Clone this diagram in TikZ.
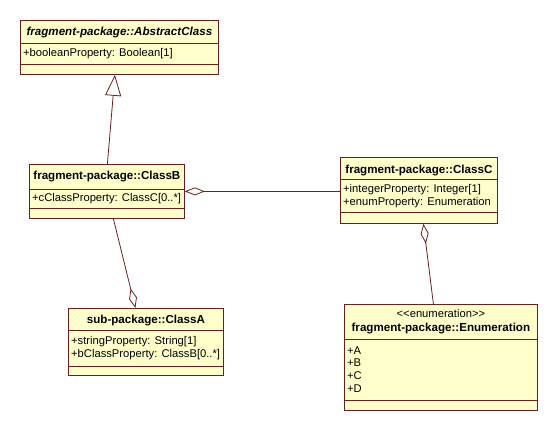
\documentclass[tikz,border=0pt]{standalone}
\usepackage{fontspec}
\setmainfont{Liberation Sans}
\usepackage{xcolor}
\usepackage{tikz}
\usetikzlibrary{arrows.meta}

\definecolor{umlfill}{RGB}{255,255,204}
\definecolor{umlline}{RGB}{110,30,30}

\tikzset{
	classbox/.style = {draw=umlline, fill=umlfill, line width=0.8pt, inner sep=0pt, anchor=north west},
	sepline/.style = {draw=umlline, line width=0.8pt},
	titletext/.style = {inner sep=0pt, anchor=base, font=\fontsize{11.6}{13}\selectfont\bfseries},
	stereotext/.style = {inner sep=0pt, anchor=base, font=\fontsize{11.2}{13}\selectfont},
	attrtext/.style = {inner sep=0pt, anchor=base west, font=\fontsize{11.2}{13}\selectfont},
	assoc/.style = {draw=umlline, line width=0.8pt},
	generalize/.style = {assoc, -{Triangle[open, length=21pt, width=16pt]}},
	aggregate/.style = {assoc, {Diamond[open, length=20pt, width=8pt]}-}
}

\begin{document}
\begin{tikzpicture}[x=1pt, y=-1pt]
		\useasboundingbox (0,0) rectangle (557,431);

		% abstract class
		\node[classbox, minimum width=198pt, minimum height=54pt] (abstract) at (20,20) {};
		\draw[sepline] (abstract.west |- 0,43) -- (abstract.east |- 0,43);
		\draw[sepline] (abstract.west |- 0,64) -- (abstract.east |- 0,64);
		\node[titletext] (abstract-title) at (abstract.north |- 0,35) {\itshape fragment-package::AbstractClass};
		\node[attrtext] (abstract-a1) at ([xshift=3pt]abstract.west |- 0,56) {+booleanProperty: Boolean[1]};

		% class B
		\node[classbox, minimum width=155pt, minimum height=54pt] (classB) at (29,164) {};
		\draw[sepline] (classB.west |- 0,189) -- (classB.east |- 0,189);
		\draw[sepline] (classB.west |- 0,208) -- (classB.east |- 0,208);
		\node[titletext] (classB-title) at (classB.north |- 0,179) {fragment-package::ClassB};
		\node[attrtext] (classB-a1) at ([xshift=3pt]classB.west |- 0,201) {+cClassProperty: ClassC[0..*]};

		% class C
		\node[classbox, minimum width=157pt, minimum height=66pt] (classC) at (340,157) {};
		\draw[sepline] (classC.west |- 0,179) -- (classC.east |- 0,179);
		\draw[sepline] (classC.west |- 0,212) -- (classC.east |- 0,212);
		\node[titletext] (classC-title) at (classC.north |- 0,173) {fragment-package::ClassC};
		\node[attrtext] (classC-a1) at ([xshift=3pt]classC.west |- 0,192) {+integerProperty: Integer[1]};
		\node[attrtext] (classC-a2) at ([xshift=3pt]classC.west |- 0,205) {+enumProperty: Enumeration};

		% class A
		\node[classbox, minimum width=155pt, minimum height=67pt] (classA) at (68,308) {};
		\draw[sepline] (classA.west |- 0,330) -- (classA.east |- 0,330);
		\draw[sepline] (classA.west |- 0,366) -- (classA.east |- 0,366);
		\node[titletext] (classA-title) at (classA.north |- 0,323) {sub-package::ClassA};
		\node[attrtext] (classA-a1) at ([xshift=3pt]classA.west |- 0,344) {+stringProperty: String[1]};
		\node[attrtext] (classA-a2) at ([xshift=3pt]classA.west |- 0,357) {+bClassProperty: ClassB[0..*]};

		% enumeration
		\node[classbox, minimum width=193pt, minimum height=106pt] (enum) at (344,304) {};
		\draw[sepline] (enum.west |- 0,339) -- (enum.east |- 0,339);
		\draw[sepline] (enum.west |- 0,400) -- (enum.east |- 0,400);
		\node[stereotext] (enum-stereo) at (enum.north |- 0,317) {{<}{<}enumeration{>}{>}};
		\node[titletext] (enum-title) at (enum.north |- 0,331) {fragment-package::Enumeration};
		\node[attrtext] (enum-a) at ([xshift=3pt]enum.west |- 0,354) {+A};
		\node[attrtext] (enum-b) at ([xshift=3pt]enum.west |- 0,366.7) {+B};
		\node[attrtext] (enum-c) at ([xshift=3pt]enum.west |- 0,379.4) {+C};
		\node[attrtext] (enum-d) at ([xshift=3pt]enum.west |- 0,392) {+D};

		% connectors
		\draw[generalize] ([xshift=0.5pt]classB.north) -- ([xshift=-4.5pt]abstract.south);
		\draw[aggregate] (classB.east) -- ([yshift=-1pt]classC.west);
		\draw[aggregate] ([xshift=-10.5pt]classA.north) -- ([xshift=6.5pt]classB.south);
		\draw[aggregate] ([xshift=4.5pt]classC.south) -- ([xshift=-7.5pt]enum.north);

	\end{tikzpicture}
\end{document}
